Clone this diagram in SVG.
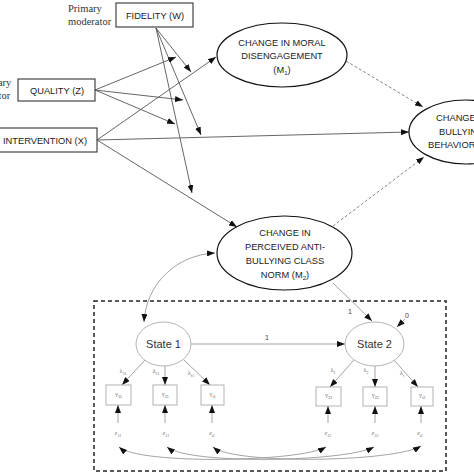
<svg xmlns="http://www.w3.org/2000/svg" width="474" height="474" viewBox="0 0 474 474">
<defs>
<marker id="ah" markerUnits="userSpaceOnUse" markerWidth="8" markerHeight="6" refX="8" refY="3" orient="auto-start-reverse"><path d="M0,0 L8,3 L0,6 z" fill="#111"/></marker>
</defs>
<style>
.t{font-family:"Liberation Sans",Arial,sans-serif;font-size:9.3px;fill:#222;text-anchor:middle}
.s{font-family:"Liberation Serif","Times New Roman",serif;font-size:10.5px;fill:#333}
.box{fill:#fff;stroke:#333;stroke-width:1.1}
.ell{fill:#fff;stroke:#111;stroke-width:1.2}
.ln{stroke:#555;stroke-width:0.9;fill:none;marker-end:url(#ah)}
.dl{stroke:#777;stroke-width:0.9;fill:none;stroke-dasharray:3,2;marker-end:url(#ah)}
.gl{stroke:#999;stroke-width:0.9;fill:none;marker-end:url(#ah)}
.gb{stroke:#999;stroke-width:0.9;fill:none;marker-end:url(#ah);marker-start:url(#ah)}
.gell{fill:#fff;stroke:#aaa;stroke-width:0.9}
.gbox{fill:#fff;stroke:#aaa;stroke-width:0.9}
.st{font-family:"Liberation Sans",Arial,sans-serif;font-size:11px;fill:#333;text-anchor:middle}
.sm{font-family:"Liberation Sans",Arial,sans-serif;font-size:5px;fill:#555;text-anchor:middle}
.lb{font-family:"Liberation Serif","Times New Roman",serif;font-size:6.5px;fill:#666;text-anchor:middle}
.lab{font-family:"Liberation Sans",Arial,sans-serif;font-size:7px;fill:#444;text-anchor:middle}
</style>
<rect width="474" height="474" fill="#fff"/>

<g id="connectors">
<line class="ln" x1="156" y1="28" x2="191" y2="72"/>
<line class="ln" x1="156" y1="28" x2="201" y2="135"/>
<line class="ln" x1="156" y1="28" x2="192" y2="193"/>
<line class="ln" x1="95" y1="90" x2="176" y2="57"/>
<line class="ln" x1="95" y1="90" x2="183" y2="100"/>
<line class="ln" x1="95" y1="90" x2="175" y2="124"/>
<line class="ln" x1="97" y1="140" x2="216" y2="57"/>
<line class="ln" x1="97" y1="140" x2="409" y2="132"/>
<line class="ln" x1="97" y1="140" x2="237" y2="227"/>
<line class="dl" x1="346" y1="61" x2="423" y2="107"/>
<line class="dl" x1="333" y1="226" x2="424" y2="157"/>
<path class="gb" d="M144,322 C146,285 175,255 215,253"/>
<line class="gl" x1="333" y1="283" x2="372" y2="321"/>
<line class="gl" x1="405" y1="319" x2="397" y2="327"/>
<line class="gl" x1="191" y1="344" x2="345" y2="344"/>
<line class="gl" x1="145" y1="360" x2="122" y2="385"/>
<line class="gl" x1="165" y1="366" x2="165" y2="385"/>
<line class="gl" x1="184" y1="360" x2="210" y2="385"/>
<line class="gl" x1="354" y1="360" x2="330" y2="387"/>
<line class="gl" x1="375" y1="366" x2="375" y2="387"/>
<line class="gl" x1="394" y1="360" x2="418" y2="387"/>
<line class="gl" x1="118" y1="423" x2="118" y2="405"/>
<line class="gl" x1="165" y1="423" x2="165" y2="405"/>
<line class="gl" x1="212" y1="423" x2="212" y2="405"/>
<line class="gl" x1="328" y1="423" x2="328" y2="406"/>
<line class="gl" x1="375" y1="423" x2="375" y2="406"/>
<line class="gl" x1="421" y1="423" x2="421" y2="406"/>
<path class="gb" d="M119,447 C140,465 300,462 326,447"/>
<path class="gb" d="M167,447 C190,465 345,462 374,447"/>
<path class="gb" d="M213,447 C235,465 395,462 421,446"/>
</g>

<rect x="94" y="301" width="352" height="170" fill="none" stroke="#222" stroke-width="1.5" stroke-dasharray="4,3"/>

<g id="primary-label">
<text class="s" x="68" y="12">Primary</text>
<text class="s" x="68" y="25">moderator</text>
</g>
<g id="secondary-label">
<text class="s" x="-33" y="86">Secondary</text>
<text class="s" x="-33" y="99">moderator</text>
</g>
<g id="fidelity">
<rect class="box" x="116" y="3" width="77" height="24"/>
<text class="t" x="155" y="18.5">FIDELITY (W)</text>
</g>
<g id="quality">
<rect class="box" x="18" y="79" width="77" height="22"/>
<text class="t" x="57" y="93.5">QUALITY (Z)</text>
</g>
<g id="intervention">
<rect class="box" x="-5" y="128" width="102" height="24"/>
<text class="t" x="45" y="143.5">INTERVENTION (X)</text>
</g>
<g id="m1">
<ellipse class="ell" cx="282" cy="55" rx="65" ry="32"/>
<text class="t" x="282" y="46">CHANGE IN MORAL</text>
<text class="t" x="282" y="59">DISENGAGEMENT</text>
<text class="t" x="282" y="73">(M<tspan font-size="6" dy="2">1</tspan><tspan dy="-2">)</tspan></text>
</g>
<g id="behavior">
<ellipse class="ell" cx="466" cy="132" rx="57" ry="32"/>
<text class="t" x="436" y="121" style="text-anchor:start">CHANGE IN</text>
<text class="t" x="439" y="135" style="text-anchor:start">BULLYING</text>
<text class="t" x="428" y="148" style="text-anchor:start">BEHAVIOR</text>
</g>
<g id="m2">
<ellipse class="ell" cx="284.5" cy="253" rx="67.5" ry="37"/>
<text class="t" x="285" y="236">CHANGE IN</text>
<text class="t" x="285" y="250">PERCEIVED ANTI-</text>
<text class="t" x="285" y="264">BULLYING CLASS</text>
<text class="t" x="285" y="278">NORM (M<tspan font-size="6" dy="2">2</tspan><tspan dy="-2">)</tspan></text>
</g>

<g id="state1">
<ellipse class="gell" cx="163.5" cy="344" rx="27.5" ry="22"/>
<text class="st" x="163.5" y="348">State 1</text>
</g>
<g id="state2">
<ellipse class="gell" cx="374.5" cy="344" rx="29.5" ry="22"/>
<text class="st" x="374.5" y="348">State 2</text>
</g>
<g id="path-labels">
<text class="lab" x="267" y="340">1</text>
<text class="lab" x="350" y="314">1</text>
<text class="lab" x="407" y="318">0</text>
<text class="lb" x="123" y="373">λ<tspan font-size="4" dy="1.5">11</tspan></text>
<text class="lb" x="156" y="373">λ<tspan font-size="4" dy="1.5">21</tspan></text>
<text class="lb" x="191" y="375">λ<tspan font-size="4" dy="1.5">t1</tspan></text>
<text class="lb" x="333" y="372">λ<tspan font-size="4" dy="1.5">1</tspan></text>
<text class="lb" x="366" y="372">λ<tspan font-size="4" dy="1.5">2</tspan></text>
<text class="lb" x="402" y="375">λ<tspan font-size="4" dy="1.5">t</tspan></text>
</g>
<g id="y11"><rect class="gbox" x="106" y="385" width="25" height="20"/><text class="sm" x="118.5" y="397">Y<tspan font-size="3.5" dy="1">11</tspan></text></g>
<g id="y21"><rect class="gbox" x="153" y="385" width="24" height="20"/><text class="sm" x="165" y="397">Y<tspan font-size="3.5" dy="1">21</tspan></text></g>
<g id="yt1"><rect class="gbox" x="201" y="385" width="23" height="20"/><text class="sm" x="212.5" y="397">Y<tspan font-size="3.5" dy="1">t1</tspan></text></g>
<g id="y12"><rect class="gbox" x="316" y="387" width="25" height="19"/><text class="sm" x="328.5" y="398">Y<tspan font-size="3.5" dy="1">12</tspan></text></g>
<g id="y22"><rect class="gbox" x="363" y="387" width="24" height="19"/><text class="sm" x="375" y="398">Y<tspan font-size="3.5" dy="1">22</tspan></text></g>
<g id="yt2"><rect class="gbox" x="411" y="387" width="22" height="19"/><text class="sm" x="422" y="398">Y<tspan font-size="3.5" dy="1">t2</tspan></text></g>
<g id="errors">
<text class="lb" x="118" y="435" font-style="italic">ε<tspan font-size="4" dy="1.5">11</tspan></text>
<text class="lb" x="166" y="435" font-style="italic">ε<tspan font-size="4" dy="1.5">21</tspan></text>
<text class="lb" x="212" y="435" font-style="italic">ε<tspan font-size="4" dy="1.5">t1</tspan></text>
<text class="lb" x="328" y="435" font-style="italic">ε<tspan font-size="4" dy="1.5">12</tspan></text>
<text class="lb" x="375" y="435" font-style="italic">ε<tspan font-size="4" dy="1.5">22</tspan></text>
<text class="lb" x="420" y="435" font-style="italic">ε<tspan font-size="4" dy="1.5">t2</tspan></text>
</g>
</svg>
